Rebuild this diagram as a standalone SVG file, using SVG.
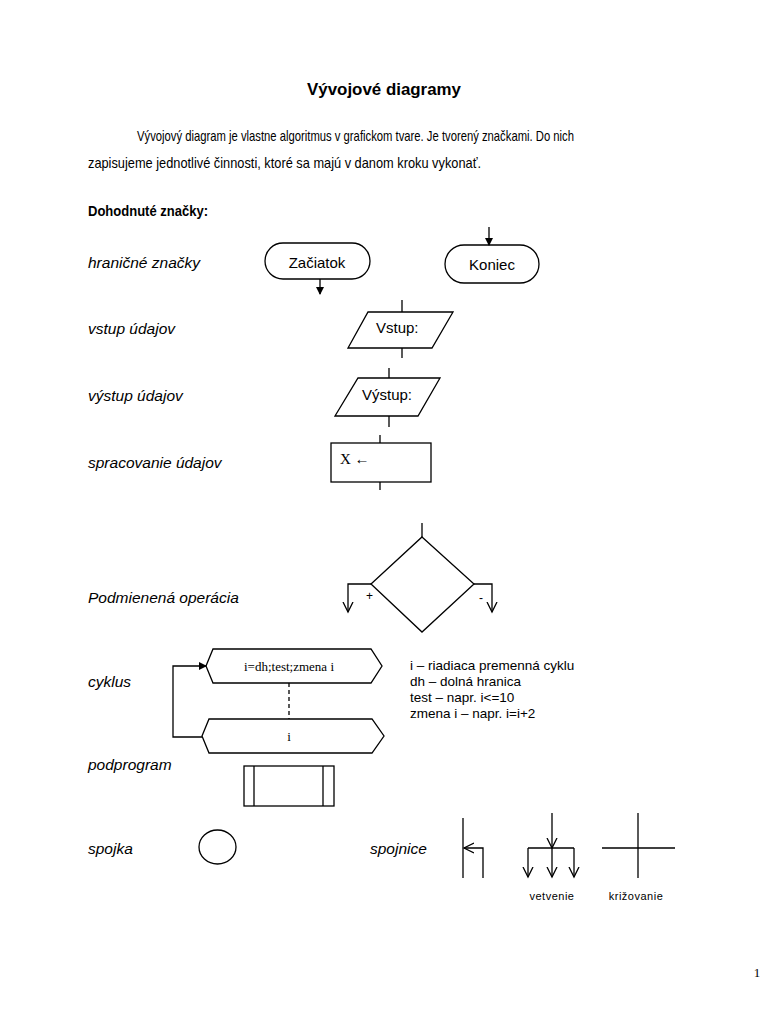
<svg xmlns="http://www.w3.org/2000/svg" width="768" height="1024" viewBox="0 0 768 1024">
<style>
.t{font-family:"Liberation Sans",Arial,sans-serif;fill:#000}
.lab{font-family:"Liberation Sans",Arial,sans-serif;font-style:italic;font-size:15.5px;fill:#000}
.s{fill:#fff;stroke:#000;stroke-width:1.3}
.l{fill:none;stroke:#000;stroke-width:1.3}
.ser{font-family:"Liberation Serif","Times New Roman",serif;fill:#000}
</style>
<defs>
<marker id="fa" markerWidth="8" markerHeight="8" refX="7" refY="4" orient="auto" markerUnits="userSpaceOnUse"><path d="M0,0 L8,4 L0,8 z" fill="#000"/></marker>
<marker id="oa" markerWidth="12" markerHeight="12" refX="10" refY="6" orient="auto" markerUnits="userSpaceOnUse"><path d="M0,1 L10,6 L0,11" fill="none" stroke="#000" stroke-width="1.3"/></marker>
</defs>
<rect width="768" height="1024" fill="#fff"/>
<text class="t" x="384" y="95" font-size="16.5" font-weight="bold" text-anchor="middle" textLength="154" lengthAdjust="spacingAndGlyphs">Vývojové diagramy</text>
<text class="t" x="137" y="141" font-size="15" textLength="437" lengthAdjust="spacingAndGlyphs">Vývojový diagram je vlastne algoritmus v grafickom tvare. Je tvorený značkami. Do nich</text>
<text class="t" x="88" y="168" font-size="15" textLength="393" lengthAdjust="spacingAndGlyphs">zapisujeme jednotlivé činnosti, ktoré sa majú v danom kroku vykonať.</text>
<text class="t" x="88" y="216" font-size="14.5" font-weight="bold" textLength="120" lengthAdjust="spacingAndGlyphs">Dohodnuté značky:</text>
<g id="labels">
<text class="lab" x="88" y="268">hraničné značky</text>
<text class="lab" x="88" y="334">vstup údajov</text>
<text class="lab" x="88" y="401">výstup údajov</text>
<text class="lab" x="88" y="468">spracovanie údajov</text>
<text class="lab" x="88" y="603">Podmienená operácia</text>
<text class="lab" x="88" y="687">cyklus</text>
<text class="lab" x="88" y="770">podprogram</text>
<text class="lab" x="88" y="854">spojka</text>
<text class="lab" x="370" y="854">spojnice</text>
</g>
<g id="zaciatok">
<rect class="s" x="265" y="243" width="105" height="36" rx="18"/>
<text class="t" x="317" y="268" font-size="15" text-anchor="middle">Začiatok</text>
</g>
<g id="koniec">
<rect class="s" x="445" y="245" width="94" height="38" rx="19"/>
<text class="t" x="492" y="270" font-size="15" text-anchor="middle">Koniec</text>
</g>
<g id="vstup">
<polygon class="s" points="368,312 453,312 432,348 348,348"/>
<text class="t" x="376" y="333" font-size="15">Vstup:</text>
</g>
<g id="vystup">
<polygon class="s" points="358,378 440,378 418,416 335,416"/>
<text class="t" x="362" y="400" font-size="15">Výstup:</text>
</g>
<g id="spracovanie">
<rect class="s" x="331" y="443" width="100" height="39"/>
<text class="ser" x="340" y="464" font-size="15">X ←</text>
</g>
<g id="podmienka">
<polygon class="s" points="422,537 474,584 422,632 371,584"/>
<text class="t" x="366" y="600" font-size="12">+</text>
<text class="t" x="479" y="602" font-size="12">-</text>
</g>
<g id="cyklus-hlava">
<polygon class="s" points="206,666 213,649 371,649 382,666 371,683 213,683"/>
<text class="ser" x="289" y="671" font-size="13" text-anchor="middle">i=dh;test;zmena i</text>
</g>
<g id="cyklus-koniec">
<polygon class="s" points="202,736 209,719 372,719 384,736 372,753 209,753"/>
<text class="ser" x="289" y="741" font-size="13" text-anchor="middle">i</text>
</g>
<g id="cyklus-popis">
<text class="t" x="410" y="670" font-size="13.5">i – riadiaca premenná cyklu</text>
<text class="t" x="410" y="686" font-size="13.5">dh – dolná hranica</text>
<text class="t" x="410" y="702" font-size="13.5">test – napr. i&lt;=10</text>
<text class="t" x="410" y="718" font-size="13.5">zmena i – napr. i=i+2</text>
</g>
<g id="podprogram">
<rect class="s" x="244" y="766" width="90" height="40"/>
<line class="l" x1="254" y1="766" x2="254" y2="806"/>
<line class="l" x1="323" y1="766" x2="323" y2="806"/>
</g>
<g id="spojka">
<ellipse class="s" cx="217.5" cy="847" rx="18.5" ry="17"/>
</g>
<g id="connectors">
<line class="l" x1="320" y1="279" x2="320" y2="294" marker-end="url(#fa)"/>
<line class="l" x1="489" y1="227" x2="489" y2="245" marker-end="url(#fa)"/>
<line class="l" x1="402" y1="300" x2="402" y2="312"/>
<line class="l" x1="402" y1="348" x2="402" y2="358"/>
<line class="l" x1="389" y1="368" x2="389" y2="378"/>
<line class="l" x1="389" y1="416" x2="389" y2="427"/>
<line class="l" x1="380" y1="435" x2="380" y2="443"/>
<line class="l" x1="380" y1="482" x2="380" y2="490"/>
<line class="l" x1="422" y1="523" x2="422" y2="537"/>
<polyline class="l" points="371,584 348,584 348,612" marker-end="url(#oa)"/>
<polyline class="l" points="474,584 492,584 492,612" marker-end="url(#oa)"/>
<line class="l" x1="289" y1="683" x2="289" y2="719" stroke-dasharray="4,3"/>
<polyline class="l" points="202,737 173,737 173,666 206,666" marker-end="url(#fa)"/>
<line class="l" x1="463" y1="818" x2="463" y2="878"/>
<polyline class="l" points="483,878 483,848 464,848" marker-end="url(#oa)"/>
<line class="l" x1="552" y1="813" x2="552" y2="848" marker-end="url(#oa)"/>
<line class="l" x1="528" y1="848" x2="574" y2="848"/>
<line class="l" x1="528" y1="848" x2="528" y2="877" marker-end="url(#oa)"/>
<line class="l" x1="552" y1="848" x2="552" y2="877" marker-end="url(#oa)"/>
<line class="l" x1="574" y1="848" x2="574" y2="877" marker-end="url(#oa)"/>
<line class="l" x1="602" y1="848" x2="675" y2="848"/>
<line class="l" x1="638" y1="813" x2="638" y2="878"/>
</g>
<text class="t" x="552" y="900" font-size="11" text-anchor="middle" letter-spacing="0.5">vetvenie</text>
<text class="t" x="636" y="900" font-size="11" text-anchor="middle" letter-spacing="0.5">križovanie</text>
<text class="ser" x="757" y="977" font-size="13" text-anchor="middle">1</text>
</svg>
